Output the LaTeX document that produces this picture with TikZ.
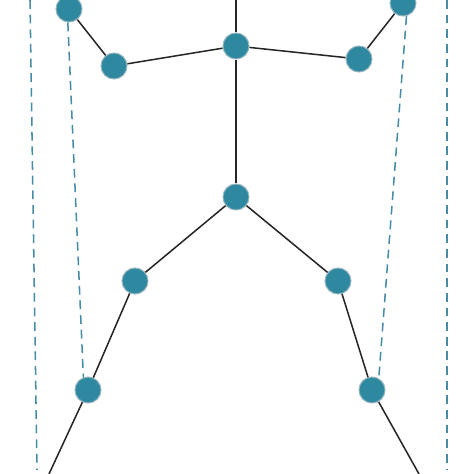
\documentclass[tikz,border=0pt]{standalone}
\usepackage{tikz}

\definecolor{jointteal}{RGB}{46,137,160}
\definecolor{jointrim}{RGB}{150,180,190}
\definecolor{guideblue}{RGB}{70,140,165}

\begin{document}
\begin{tikzpicture}[x=0.03cm, y=-0.03cm,
	joint/.style={circle, fill=jointteal, draw=jointrim, line width=0.9pt, minimum size=0.78cm, inner sep=0pt},
	bone/.style={line width=1.3pt, black!85},
	guide/.style={line width=1.3pt, guideblue, dash pattern=on 7.5pt off 5pt}]
	\useasboundingbox (0,0) rectangle (474,474);

	% guides at the sides
	\coordinate (lotop) at (30,0);
	\coordinate (lobot) at (37,470);
	\coordinate (rotop) at (447,0);
	\coordinate (robot) at (447,470);
	\draw[guide] (lotop) -- (lobot);
	\draw[guide] (rotop) -- (robot);

	% free ends
	\coordinate (headtop) at (236,0);
	\coordinate (lfoot) at (49,474);
	\coordinate (rfoot) at (419,474);

	\node[joint] (lwrist) at (69,9) {};
	\node[joint] (lelbow) at (114,66) {};
	\node[joint] (neck) at (236,46) {};
	\node[joint] (relbow) at (359,59) {};
	\node[joint] (rwrist) at (403,3) {};
	\node[joint] (pelvis) at (236,197) {};
	\node[joint] (lhip) at (135,281) {};
	\node[joint] (rhip) at (338,281) {};
	\node[joint] (lknee) at (88,390) {};
	\node[joint] (rknee) at (372,390) {};

	\draw[guide] (lwrist.-95) -- (lknee.110);
	\draw[guide] (rwrist.-75) -- (rknee.60);

	\draw[bone] (neck) -- (headtop);
	\draw[bone] (lwrist) -- (lelbow) -- (neck) -- (relbow) -- (rwrist);
	\draw[bone] (neck) -- (pelvis);
	\draw[bone] (pelvis) -- (lhip) -- (lknee) -- (lfoot);
	\draw[bone] (pelvis) -- (rhip) -- (rknee) -- (rfoot);

\end{tikzpicture}
\end{document}
